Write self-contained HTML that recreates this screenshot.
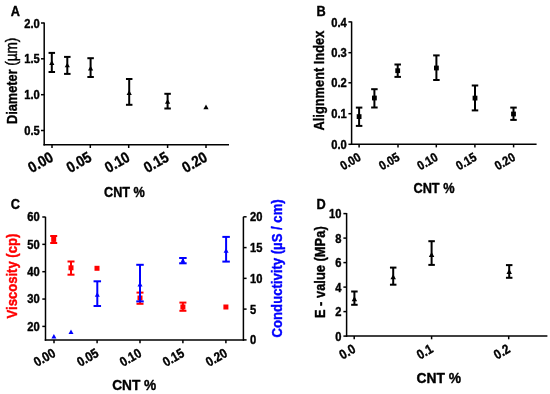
<!DOCTYPE html>
<html><head><meta charset="utf-8"><title>Figure</title>
<style>
html,body{margin:0;padding:0;background:#fff;width:550px;height:394px;overflow:hidden}
svg{display:block}
text{font-family:"Liberation Sans", Arial, sans-serif;}
</style></head><body>
<svg width="550" height="394" viewBox="0 0 550 394">
<rect width="550" height="394" fill="#fff"/>
<line x1="44.20" y1="22.60" x2="44.20" y2="145.55" stroke="#000" stroke-width="1.5"/>
<line x1="43.45" y1="144.80" x2="229.00" y2="144.80" stroke="#000" stroke-width="1.5"/>
<line x1="41.00" y1="23.00" x2="44.20" y2="23.00" stroke="#000" stroke-width="1.5"/>
<text id="Ay0" transform="translate(39.79,27.60) scale(0.880,1)" font-size="12.70" text-anchor="end" fill="#000" font-weight="bold" stroke="#000" stroke-width="0.4" stroke-linejoin="round">2.0</text>
<line x1="41.00" y1="58.80" x2="44.20" y2="58.80" stroke="#000" stroke-width="1.5"/>
<text id="Ay1" transform="translate(39.79,63.40) scale(0.880,1)" font-size="12.70" text-anchor="end" fill="#000" font-weight="bold" stroke="#000" stroke-width="0.4" stroke-linejoin="round">1.5</text>
<line x1="41.00" y1="94.70" x2="44.20" y2="94.70" stroke="#000" stroke-width="1.5"/>
<text id="Ay2" transform="translate(39.79,99.30) scale(0.880,1)" font-size="12.70" text-anchor="end" fill="#000" font-weight="bold" stroke="#000" stroke-width="0.4" stroke-linejoin="round">1.0</text>
<line x1="41.00" y1="130.50" x2="44.20" y2="130.50" stroke="#000" stroke-width="1.5"/>
<text id="Ay3" transform="translate(39.79,135.10) scale(0.880,1)" font-size="12.70" text-anchor="end" fill="#000" font-weight="bold" stroke="#000" stroke-width="0.4" stroke-linejoin="round">0.5</text>
<line x1="52.00" y1="144.80" x2="52.00" y2="148.00" stroke="#000" stroke-width="1.5"/>
<text id="Ax0" transform="translate(54.30,160.20) rotate(-30) scale(0.870,1)" font-size="15.33" text-anchor="end" fill="#000" font-weight="bold" stroke="#000" stroke-width="0.4" stroke-linejoin="round">0.00</text>
<line x1="90.30" y1="144.80" x2="90.30" y2="148.00" stroke="#000" stroke-width="1.5"/>
<text id="Ax1" transform="translate(92.60,160.20) rotate(-30) scale(0.870,1)" font-size="15.33" text-anchor="end" fill="#000" font-weight="bold" stroke="#000" stroke-width="0.4" stroke-linejoin="round">0.05</text>
<line x1="128.70" y1="144.80" x2="128.70" y2="148.00" stroke="#000" stroke-width="1.5"/>
<text id="Ax2" transform="translate(131.00,160.20) rotate(-30) scale(0.870,1)" font-size="15.33" text-anchor="end" fill="#000" font-weight="bold" stroke="#000" stroke-width="0.4" stroke-linejoin="round">0.10</text>
<line x1="167.60" y1="144.80" x2="167.60" y2="148.00" stroke="#000" stroke-width="1.5"/>
<text id="Ax3" transform="translate(169.90,160.20) rotate(-30) scale(0.870,1)" font-size="15.33" text-anchor="end" fill="#000" font-weight="bold" stroke="#000" stroke-width="0.4" stroke-linejoin="round">0.15</text>
<line x1="206.00" y1="144.80" x2="206.00" y2="148.00" stroke="#000" stroke-width="1.5"/>
<text id="Ax4" transform="translate(208.30,160.20) rotate(-30) scale(0.870,1)" font-size="15.33" text-anchor="end" fill="#000" font-weight="bold" stroke="#000" stroke-width="0.4" stroke-linejoin="round">0.20</text>
<text id="At" transform="translate(124.40,197.00) scale(0.875,1)" font-size="14.50" text-anchor="middle" fill="#000" font-weight="bold" stroke="#000" stroke-width="0.4" stroke-linejoin="round">CNT %</text>
<text id="Ayl" transform="translate(17.00,80.85) rotate(-90) scale(0.825,1)" font-size="15.50" text-anchor="middle" fill="#000" font-weight="bold" stroke="#000" stroke-width="0.4" stroke-linejoin="round">Diameter <tspan font-weight="normal" font-size="16.5" stroke-width="0.5">(µm)</tspan></text>
<text id="AL" transform="translate(10.70,16.00) scale(0.850,1)" font-size="15.00" text-anchor="start" fill="#000" font-weight="bold" stroke="#000" stroke-width="0.4" stroke-linejoin="round">A</text>
<line x1="51.80" y1="52.90" x2="51.80" y2="72.00" stroke="#000" stroke-width="2"/>
<line x1="48.55" y1="52.90" x2="55.05" y2="52.90" stroke="#000" stroke-width="2"/>
<line x1="48.55" y1="72.00" x2="55.05" y2="72.00" stroke="#000" stroke-width="2"/>
<polygon points="49.20,65.05 54.40,65.05 51.80,60.35" fill="#000"/>
<line x1="67.30" y1="56.90" x2="67.30" y2="73.90" stroke="#000" stroke-width="2"/>
<line x1="64.05" y1="56.90" x2="70.55" y2="56.90" stroke="#000" stroke-width="2"/>
<line x1="64.05" y1="73.90" x2="70.55" y2="73.90" stroke="#000" stroke-width="2"/>
<polygon points="64.70,67.35 69.90,67.35 67.30,62.65" fill="#000"/>
<line x1="90.60" y1="58.20" x2="90.60" y2="77.00" stroke="#000" stroke-width="2"/>
<line x1="87.35" y1="58.20" x2="93.85" y2="58.20" stroke="#000" stroke-width="2"/>
<line x1="87.35" y1="77.00" x2="93.85" y2="77.00" stroke="#000" stroke-width="2"/>
<polygon points="88.00,70.45 93.20,70.45 90.60,65.75" fill="#000"/>
<line x1="129.20" y1="79.00" x2="129.20" y2="104.80" stroke="#000" stroke-width="2"/>
<line x1="125.95" y1="79.00" x2="132.45" y2="79.00" stroke="#000" stroke-width="2"/>
<line x1="125.95" y1="104.80" x2="132.45" y2="104.80" stroke="#000" stroke-width="2"/>
<polygon points="126.60,94.95 131.80,94.95 129.20,90.25" fill="#000"/>
<line x1="167.60" y1="93.80" x2="167.60" y2="108.50" stroke="#000" stroke-width="2"/>
<line x1="164.35" y1="93.80" x2="170.85" y2="93.80" stroke="#000" stroke-width="2"/>
<line x1="164.35" y1="108.50" x2="170.85" y2="108.50" stroke="#000" stroke-width="2"/>
<polygon points="165.00,103.65 170.20,103.65 167.60,98.95" fill="#000"/>
<polygon points="203.40,109.15 208.60,109.15 206.00,104.45" fill="#000"/>
<line x1="351.60" y1="21.50" x2="351.60" y2="144.95" stroke="#000" stroke-width="1.5"/>
<line x1="350.85" y1="144.20" x2="536.60" y2="144.20" stroke="#000" stroke-width="1.5"/>
<line x1="348.40" y1="21.90" x2="351.60" y2="21.90" stroke="#000" stroke-width="1.5"/>
<text id="By0" transform="translate(346.75,26.55) scale(0.880,1)" font-size="12.70" text-anchor="end" fill="#000" font-weight="bold" stroke="#000" stroke-width="0.4" stroke-linejoin="round">0.4</text>
<line x1="348.40" y1="52.70" x2="351.60" y2="52.70" stroke="#000" stroke-width="1.5"/>
<text id="By1" transform="translate(346.75,57.35) scale(0.880,1)" font-size="12.70" text-anchor="end" fill="#000" font-weight="bold" stroke="#000" stroke-width="0.4" stroke-linejoin="round">0.3</text>
<line x1="348.40" y1="82.80" x2="351.60" y2="82.80" stroke="#000" stroke-width="1.5"/>
<text id="By2" transform="translate(346.75,87.45) scale(0.880,1)" font-size="12.70" text-anchor="end" fill="#000" font-weight="bold" stroke="#000" stroke-width="0.4" stroke-linejoin="round">0.2</text>
<line x1="348.40" y1="113.70" x2="351.60" y2="113.70" stroke="#000" stroke-width="1.5"/>
<text id="By3" transform="translate(346.75,118.35) scale(0.880,1)" font-size="12.70" text-anchor="end" fill="#000" font-weight="bold" stroke="#000" stroke-width="0.4" stroke-linejoin="round">0.1</text>
<line x1="348.40" y1="144.30" x2="351.60" y2="144.30" stroke="#000" stroke-width="1.5"/>
<text id="By4" transform="translate(346.75,148.95) scale(0.880,1)" font-size="12.70" text-anchor="end" fill="#000" font-weight="bold" stroke="#000" stroke-width="0.4" stroke-linejoin="round">0.0</text>
<line x1="359.10" y1="144.20" x2="359.10" y2="147.40" stroke="#000" stroke-width="1.5"/>
<text id="Bx0" transform="translate(361.70,159.80) rotate(-30) scale(0.870,1)" font-size="12.65" text-anchor="end" fill="#000" font-weight="bold" stroke="#000" stroke-width="0.4" stroke-linejoin="round">0.00</text>
<line x1="398.00" y1="144.20" x2="398.00" y2="147.40" stroke="#000" stroke-width="1.5"/>
<text id="Bx1" transform="translate(400.60,159.80) rotate(-30) scale(0.870,1)" font-size="12.65" text-anchor="end" fill="#000" font-weight="bold" stroke="#000" stroke-width="0.4" stroke-linejoin="round">0.05</text>
<line x1="436.30" y1="144.20" x2="436.30" y2="147.40" stroke="#000" stroke-width="1.5"/>
<text id="Bx2" transform="translate(438.90,159.80) rotate(-30) scale(0.870,1)" font-size="12.65" text-anchor="end" fill="#000" font-weight="bold" stroke="#000" stroke-width="0.4" stroke-linejoin="round">0.10</text>
<line x1="474.90" y1="144.20" x2="474.90" y2="147.40" stroke="#000" stroke-width="1.5"/>
<text id="Bx3" transform="translate(477.50,159.80) rotate(-30) scale(0.870,1)" font-size="12.65" text-anchor="end" fill="#000" font-weight="bold" stroke="#000" stroke-width="0.4" stroke-linejoin="round">0.15</text>
<line x1="513.60" y1="144.20" x2="513.60" y2="147.40" stroke="#000" stroke-width="1.5"/>
<text id="Bx4" transform="translate(516.20,159.80) rotate(-30) scale(0.870,1)" font-size="12.65" text-anchor="end" fill="#000" font-weight="bold" stroke="#000" stroke-width="0.4" stroke-linejoin="round">0.20</text>
<text id="Bt" transform="translate(433.95,193.40) scale(0.879,1)" font-size="14.50" text-anchor="middle" fill="#000" font-weight="bold" stroke="#000" stroke-width="0.4" stroke-linejoin="round">CNT %</text>
<text id="Byl" transform="translate(324.40,80.55) rotate(-90) scale(0.829,1)" font-size="15.50" text-anchor="middle" fill="#000" font-weight="bold" stroke="#000" stroke-width="0.4" stroke-linejoin="round">Alignment Index</text>
<text id="BL" transform="translate(316.40,16.00) scale(0.850,1)" font-size="15.00" text-anchor="start" fill="#000" font-weight="bold" stroke="#000" stroke-width="0.4" stroke-linejoin="round">B</text>
<line x1="359.10" y1="107.60" x2="359.10" y2="125.90" stroke="#000" stroke-width="2"/>
<line x1="355.85" y1="107.60" x2="362.35" y2="107.60" stroke="#000" stroke-width="2"/>
<line x1="355.85" y1="125.90" x2="362.35" y2="125.90" stroke="#000" stroke-width="2"/>
<rect x="356.70" y="114.20" width="4.8" height="4.8" fill="#000"/>
<line x1="374.40" y1="89.20" x2="374.40" y2="107.50" stroke="#000" stroke-width="2"/>
<line x1="371.15" y1="89.20" x2="377.65" y2="89.20" stroke="#000" stroke-width="2"/>
<line x1="371.15" y1="107.50" x2="377.65" y2="107.50" stroke="#000" stroke-width="2"/>
<rect x="372.00" y="95.60" width="4.8" height="4.8" fill="#000"/>
<line x1="397.70" y1="64.50" x2="397.70" y2="76.90" stroke="#000" stroke-width="2"/>
<line x1="394.45" y1="64.50" x2="400.95" y2="64.50" stroke="#000" stroke-width="2"/>
<line x1="394.45" y1="76.90" x2="400.95" y2="76.90" stroke="#000" stroke-width="2"/>
<rect x="395.30" y="68.30" width="4.8" height="4.8" fill="#000"/>
<line x1="436.40" y1="55.40" x2="436.40" y2="80.00" stroke="#000" stroke-width="2"/>
<line x1="433.15" y1="55.40" x2="439.65" y2="55.40" stroke="#000" stroke-width="2"/>
<line x1="433.15" y1="80.00" x2="439.65" y2="80.00" stroke="#000" stroke-width="2"/>
<rect x="434.00" y="65.60" width="4.8" height="4.8" fill="#000"/>
<line x1="475.00" y1="85.50" x2="475.00" y2="110.40" stroke="#000" stroke-width="2"/>
<line x1="471.75" y1="85.50" x2="478.25" y2="85.50" stroke="#000" stroke-width="2"/>
<line x1="471.75" y1="110.40" x2="478.25" y2="110.40" stroke="#000" stroke-width="2"/>
<rect x="472.60" y="95.70" width="4.8" height="4.8" fill="#000"/>
<line x1="513.50" y1="107.60" x2="513.50" y2="119.90" stroke="#000" stroke-width="2"/>
<line x1="510.25" y1="107.60" x2="516.75" y2="107.60" stroke="#000" stroke-width="2"/>
<line x1="510.25" y1="119.90" x2="516.75" y2="119.90" stroke="#000" stroke-width="2"/>
<rect x="511.10" y="111.60" width="4.8" height="4.8" fill="#000"/>
<line x1="45.50" y1="216.80" x2="45.50" y2="340.75" stroke="#000" stroke-width="1.5"/>
<line x1="243.40" y1="216.80" x2="243.40" y2="340.75" stroke="#000" stroke-width="1.5"/>
<line x1="44.75" y1="340.00" x2="244.15" y2="340.00" stroke="#000" stroke-width="1.5"/>
<line x1="42.30" y1="217.00" x2="45.50" y2="217.00" stroke="#000" stroke-width="1.5"/>
<text id="Cy0" transform="translate(39.75,221.25) scale(0.880,1)" font-size="12.70" text-anchor="end" fill="#000" font-weight="bold" stroke="#000" stroke-width="0.4" stroke-linejoin="round">60</text>
<line x1="42.30" y1="244.35" x2="45.50" y2="244.35" stroke="#000" stroke-width="1.5"/>
<text id="Cy1" transform="translate(39.75,248.60) scale(0.880,1)" font-size="12.70" text-anchor="end" fill="#000" font-weight="bold" stroke="#000" stroke-width="0.4" stroke-linejoin="round">50</text>
<line x1="42.30" y1="271.70" x2="45.50" y2="271.70" stroke="#000" stroke-width="1.5"/>
<text id="Cy2" transform="translate(39.75,275.95) scale(0.880,1)" font-size="12.70" text-anchor="end" fill="#000" font-weight="bold" stroke="#000" stroke-width="0.4" stroke-linejoin="round">40</text>
<line x1="42.30" y1="299.05" x2="45.50" y2="299.05" stroke="#000" stroke-width="1.5"/>
<text id="Cy3" transform="translate(39.75,303.30) scale(0.880,1)" font-size="12.70" text-anchor="end" fill="#000" font-weight="bold" stroke="#000" stroke-width="0.4" stroke-linejoin="round">30</text>
<line x1="42.30" y1="326.40" x2="45.50" y2="326.40" stroke="#000" stroke-width="1.5"/>
<text id="Cy4" transform="translate(39.75,330.65) scale(0.880,1)" font-size="12.70" text-anchor="end" fill="#000" font-weight="bold" stroke="#000" stroke-width="0.4" stroke-linejoin="round">20</text>
<line x1="243.40" y1="216.80" x2="246.60" y2="216.80" stroke="#000" stroke-width="1.5"/>
<text id="Cr0" transform="translate(250.00,221.25) scale(0.880,1)" font-size="12.70" text-anchor="start" fill="#000" font-weight="bold" stroke="#000" stroke-width="0.4" stroke-linejoin="round">20</text>
<line x1="243.40" y1="247.60" x2="246.60" y2="247.60" stroke="#000" stroke-width="1.5"/>
<text id="Cr1" transform="translate(250.00,252.05) scale(0.880,1)" font-size="12.70" text-anchor="start" fill="#000" font-weight="bold" stroke="#000" stroke-width="0.4" stroke-linejoin="round">15</text>
<line x1="243.40" y1="278.35" x2="246.60" y2="278.35" stroke="#000" stroke-width="1.5"/>
<text id="Cr2" transform="translate(250.00,282.80) scale(0.880,1)" font-size="12.70" text-anchor="start" fill="#000" font-weight="bold" stroke="#000" stroke-width="0.4" stroke-linejoin="round">10</text>
<line x1="243.40" y1="309.10" x2="246.60" y2="309.10" stroke="#000" stroke-width="1.5"/>
<text id="Cr3" transform="translate(250.00,313.55) scale(0.880,1)" font-size="12.70" text-anchor="start" fill="#000" font-weight="bold" stroke="#000" stroke-width="0.4" stroke-linejoin="round">5</text>
<line x1="243.40" y1="339.90" x2="246.60" y2="339.90" stroke="#000" stroke-width="1.5"/>
<text id="Cr4" transform="translate(250.00,344.35) scale(0.880,1)" font-size="12.70" text-anchor="start" fill="#000" font-weight="bold" stroke="#000" stroke-width="0.4" stroke-linejoin="round">0</text>
<line x1="54.00" y1="340.00" x2="54.00" y2="343.20" stroke="#000" stroke-width="1.5"/>
<text id="Cx0" transform="translate(56.50,355.75) rotate(-30) scale(0.870,1)" font-size="13.28" text-anchor="end" fill="#000" font-weight="bold" stroke="#000" stroke-width="0.4" stroke-linejoin="round">0.00</text>
<line x1="97.10" y1="340.00" x2="97.10" y2="343.20" stroke="#000" stroke-width="1.5"/>
<text id="Cx1" transform="translate(99.60,355.75) rotate(-30) scale(0.870,1)" font-size="13.28" text-anchor="end" fill="#000" font-weight="bold" stroke="#000" stroke-width="0.4" stroke-linejoin="round">0.05</text>
<line x1="140.00" y1="340.00" x2="140.00" y2="343.20" stroke="#000" stroke-width="1.5"/>
<text id="Cx2" transform="translate(142.50,355.75) rotate(-30) scale(0.870,1)" font-size="13.28" text-anchor="end" fill="#000" font-weight="bold" stroke="#000" stroke-width="0.4" stroke-linejoin="round">0.10</text>
<line x1="182.90" y1="340.00" x2="182.90" y2="343.20" stroke="#000" stroke-width="1.5"/>
<text id="Cx3" transform="translate(185.40,355.75) rotate(-30) scale(0.870,1)" font-size="13.28" text-anchor="end" fill="#000" font-weight="bold" stroke="#000" stroke-width="0.4" stroke-linejoin="round">0.15</text>
<line x1="225.90" y1="340.00" x2="225.90" y2="343.20" stroke="#000" stroke-width="1.5"/>
<text id="Cx4" transform="translate(228.40,355.75) rotate(-30) scale(0.870,1)" font-size="13.28" text-anchor="end" fill="#000" font-weight="bold" stroke="#000" stroke-width="0.4" stroke-linejoin="round">0.20</text>
<text id="Ct" transform="translate(134.25,389.90) scale(0.943,1)" font-size="14.50" text-anchor="middle" fill="#000" font-weight="bold" stroke="#000" stroke-width="0.4" stroke-linejoin="round">CNT %</text>
<text id="Cyl" transform="translate(16.65,276.05) rotate(-90) scale(0.844,1)" font-size="15.50" text-anchor="middle" fill="#ff0000" font-weight="bold" stroke="#ff0000" stroke-width="0.4" stroke-linejoin="round">Viscosity (cp)</text>
<text id="Cyr" transform="translate(281.95,268.35) rotate(-90) scale(0.847,1)" font-size="15.50" text-anchor="middle" fill="#0000ff" font-weight="bold" stroke="#0000ff" stroke-width="0.4" stroke-linejoin="round">Conductivity (µS / cm)</text>
<text id="CL" transform="translate(10.70,208.90) scale(0.850,1)" font-size="15.00" text-anchor="start" fill="#000" font-weight="bold" stroke="#000" stroke-width="0.4" stroke-linejoin="round">C</text>
<line x1="53.70" y1="236.00" x2="53.70" y2="243.00" stroke="#ff0000" stroke-width="2"/>
<line x1="50.20" y1="236.00" x2="57.20" y2="236.00" stroke="#ff0000" stroke-width="2"/>
<line x1="50.20" y1="243.00" x2="57.20" y2="243.00" stroke="#ff0000" stroke-width="2"/>
<rect x="51.20" y="236.90" width="5" height="5" fill="#ff0000"/>
<line x1="71.00" y1="261.50" x2="71.00" y2="274.70" stroke="#ff0000" stroke-width="2"/>
<line x1="67.50" y1="261.50" x2="74.50" y2="261.50" stroke="#ff0000" stroke-width="2"/>
<line x1="67.50" y1="274.70" x2="74.50" y2="274.70" stroke="#ff0000" stroke-width="2"/>
<rect x="68.50" y="265.30" width="5" height="5" fill="#ff0000"/>
<rect x="94.50" y="265.80" width="5" height="5" fill="#ff0000"/>
<line x1="140.00" y1="292.60" x2="140.00" y2="303.80" stroke="#ff0000" stroke-width="2"/>
<line x1="136.50" y1="292.60" x2="143.50" y2="292.60" stroke="#ff0000" stroke-width="2"/>
<line x1="136.50" y1="303.80" x2="143.50" y2="303.80" stroke="#ff0000" stroke-width="2"/>
<rect x="137.50" y="295.50" width="5" height="5" fill="#ff0000"/>
<line x1="182.90" y1="302.60" x2="182.90" y2="310.80" stroke="#ff0000" stroke-width="2"/>
<line x1="179.40" y1="302.60" x2="186.40" y2="302.60" stroke="#ff0000" stroke-width="2"/>
<line x1="179.40" y1="310.80" x2="186.40" y2="310.80" stroke="#ff0000" stroke-width="2"/>
<rect x="180.40" y="304.50" width="5" height="5" fill="#ff0000"/>
<rect x="223.40" y="304.50" width="5" height="5" fill="#ff0000"/>
<polygon points="51.40,338.50 56.40,338.50 53.90,333.90" fill="#0000ff"/>
<polygon points="68.50,334.10 73.50,334.10 71.00,329.50" fill="#0000ff"/>
<line x1="97.30" y1="281.30" x2="97.30" y2="306.00" stroke="#0000ff" stroke-width="2"/>
<line x1="93.55" y1="281.30" x2="101.05" y2="281.30" stroke="#0000ff" stroke-width="2"/>
<line x1="93.55" y1="306.00" x2="101.05" y2="306.00" stroke="#0000ff" stroke-width="2"/>
<polygon points="94.80,296.80 99.80,296.80 97.30,292.20" fill="#0000ff"/>
<line x1="140.00" y1="264.80" x2="140.00" y2="301.40" stroke="#0000ff" stroke-width="2"/>
<line x1="136.25" y1="264.80" x2="143.75" y2="264.80" stroke="#0000ff" stroke-width="2"/>
<line x1="136.25" y1="301.40" x2="143.75" y2="301.40" stroke="#0000ff" stroke-width="2"/>
<polygon points="137.50,286.60 142.50,286.60 140.00,282.00" fill="#0000ff"/>
<line x1="182.90" y1="258.00" x2="182.90" y2="263.30" stroke="#0000ff" stroke-width="2"/>
<line x1="179.15" y1="258.00" x2="186.65" y2="258.00" stroke="#0000ff" stroke-width="2"/>
<line x1="179.15" y1="263.30" x2="186.65" y2="263.30" stroke="#0000ff" stroke-width="2"/>
<polygon points="180.40,262.70 185.40,262.70 182.90,258.10" fill="#0000ff"/>
<line x1="226.10" y1="236.90" x2="226.10" y2="261.60" stroke="#0000ff" stroke-width="2"/>
<line x1="222.35" y1="236.90" x2="229.85" y2="236.90" stroke="#0000ff" stroke-width="2"/>
<line x1="222.35" y1="261.60" x2="229.85" y2="261.60" stroke="#0000ff" stroke-width="2"/>
<polygon points="223.60,252.80 228.60,252.80 226.10,248.20" fill="#0000ff"/>
<line x1="346.60" y1="213.00" x2="346.60" y2="336.85" stroke="#000" stroke-width="1.5"/>
<line x1="345.85" y1="336.10" x2="547.40" y2="336.10" stroke="#000" stroke-width="1.5"/>
<line x1="343.40" y1="213.60" x2="346.60" y2="213.60" stroke="#000" stroke-width="1.5"/>
<text id="Dy0" transform="translate(341.45,218.16) scale(0.880,1)" font-size="12.70" text-anchor="end" fill="#000" font-weight="bold" stroke="#000" stroke-width="0.4" stroke-linejoin="round">10</text>
<line x1="343.40" y1="238.10" x2="346.60" y2="238.10" stroke="#000" stroke-width="1.5"/>
<text id="Dy1" transform="translate(341.45,242.66) scale(0.880,1)" font-size="12.70" text-anchor="end" fill="#000" font-weight="bold" stroke="#000" stroke-width="0.4" stroke-linejoin="round">8</text>
<line x1="343.40" y1="262.60" x2="346.60" y2="262.60" stroke="#000" stroke-width="1.5"/>
<text id="Dy2" transform="translate(341.45,267.16) scale(0.880,1)" font-size="12.70" text-anchor="end" fill="#000" font-weight="bold" stroke="#000" stroke-width="0.4" stroke-linejoin="round">6</text>
<line x1="343.40" y1="287.10" x2="346.60" y2="287.10" stroke="#000" stroke-width="1.5"/>
<text id="Dy3" transform="translate(341.45,291.66) scale(0.880,1)" font-size="12.70" text-anchor="end" fill="#000" font-weight="bold" stroke="#000" stroke-width="0.4" stroke-linejoin="round">4</text>
<line x1="343.40" y1="311.60" x2="346.60" y2="311.60" stroke="#000" stroke-width="1.5"/>
<text id="Dy4" transform="translate(341.45,316.16) scale(0.880,1)" font-size="12.70" text-anchor="end" fill="#000" font-weight="bold" stroke="#000" stroke-width="0.4" stroke-linejoin="round">2</text>
<line x1="343.40" y1="336.10" x2="346.60" y2="336.10" stroke="#000" stroke-width="1.5"/>
<text id="Dy5" transform="translate(341.45,340.66) scale(0.880,1)" font-size="12.70" text-anchor="end" fill="#000" font-weight="bold" stroke="#000" stroke-width="0.4" stroke-linejoin="round">0</text>
<line x1="354.20" y1="336.10" x2="354.20" y2="339.30" stroke="#000" stroke-width="1.5"/>
<text id="Dx0" transform="translate(356.60,351.60) rotate(-30) scale(0.870,1)" font-size="13.36" text-anchor="end" fill="#000" font-weight="bold" stroke="#000" stroke-width="0.4" stroke-linejoin="round">0.0</text>
<line x1="431.60" y1="336.10" x2="431.60" y2="339.30" stroke="#000" stroke-width="1.5"/>
<text id="Dx1" transform="translate(434.00,351.60) rotate(-30) scale(0.870,1)" font-size="13.36" text-anchor="end" fill="#000" font-weight="bold" stroke="#000" stroke-width="0.4" stroke-linejoin="round">0.1</text>
<line x1="508.70" y1="336.10" x2="508.70" y2="339.30" stroke="#000" stroke-width="1.5"/>
<text id="Dx2" transform="translate(511.10,351.60) rotate(-30) scale(0.870,1)" font-size="13.36" text-anchor="end" fill="#000" font-weight="bold" stroke="#000" stroke-width="0.4" stroke-linejoin="round">0.2</text>
<text id="Dt" transform="translate(438.85,382.55) scale(0.954,1)" font-size="14.50" text-anchor="middle" fill="#000" font-weight="bold" stroke="#000" stroke-width="0.4" stroke-linejoin="round">CNT %</text>
<text id="Dyl" transform="translate(325.05,272.20) rotate(-90) scale(0.833,1)" font-size="15.50" text-anchor="middle" fill="#000" font-weight="bold" stroke="#000" stroke-width="0.4" stroke-linejoin="round">E - value (MPa)</text>
<text id="DL" transform="translate(316.40,208.50) scale(0.850,1)" font-size="15.00" text-anchor="start" fill="#000" font-weight="bold" stroke="#000" stroke-width="0.4" stroke-linejoin="round">D</text>
<line x1="354.40" y1="291.50" x2="354.40" y2="304.80" stroke="#000" stroke-width="2"/>
<line x1="351.15" y1="291.50" x2="357.65" y2="291.50" stroke="#000" stroke-width="2"/>
<line x1="351.15" y1="304.80" x2="357.65" y2="304.80" stroke="#000" stroke-width="2"/>
<polygon points="351.65,301.30 357.15,301.30 354.40,296.30" fill="#000"/>
<line x1="393.20" y1="267.60" x2="393.20" y2="284.70" stroke="#000" stroke-width="2"/>
<line x1="389.95" y1="267.60" x2="396.45" y2="267.60" stroke="#000" stroke-width="2"/>
<line x1="389.95" y1="284.70" x2="396.45" y2="284.70" stroke="#000" stroke-width="2"/>
<polygon points="390.45,279.20 395.95,279.20 393.20,274.20" fill="#000"/>
<line x1="431.60" y1="241.20" x2="431.60" y2="264.90" stroke="#000" stroke-width="2"/>
<line x1="428.35" y1="241.20" x2="434.85" y2="241.20" stroke="#000" stroke-width="2"/>
<line x1="428.35" y1="264.90" x2="434.85" y2="264.90" stroke="#000" stroke-width="2"/>
<polygon points="428.85,257.00 434.35,257.00 431.60,252.00" fill="#000"/>
<line x1="509.20" y1="265.10" x2="509.20" y2="277.80" stroke="#000" stroke-width="2"/>
<line x1="505.95" y1="265.10" x2="512.45" y2="265.10" stroke="#000" stroke-width="2"/>
<line x1="505.95" y1="277.80" x2="512.45" y2="277.80" stroke="#000" stroke-width="2"/>
<polygon points="506.45,274.00 511.95,274.00 509.20,269.00" fill="#000"/>
</svg>
</body></html>
